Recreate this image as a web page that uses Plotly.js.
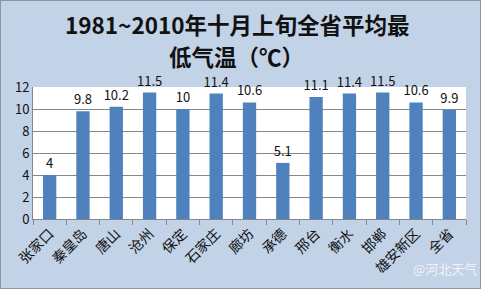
<!DOCTYPE html>
<html><head><meta charset="utf-8">
<script src="https://cdn.plot.ly/plotly-3.0.1.min.js"></script>
<style>html,body{margin:0;padding:0;background:#fff}#c{width:479px;height:287px;border:1px solid #8796a8}</style>
</head><body><div id="c"></div>
<script>
var categories = ['张家口','秦皇岛','唐山','沧州','保定','石家庄','廊坊','承德','邢台','衡水','邯郸','雄安新区','全省'];
var values = [4, 9.8, 10.2, 11.5, 10, 11.4, 10.6, 5.1, 11.1, 11.4, 11.5, 10.6, 9.9];
var labels = values.map(function(v){return String(v);});
var titleLines = ['1981~2010年十月上旬全省平均最', '低气温（℃）'];
var font = '"Noto Sans CJK SC", "Liberation Sans", sans-serif';
var H = 287, mt = 86, mb = 69, ph = H - mt - mb;
function py(pix){ return 1 - (pix - mt) / ph; }
Plotly.newPlot('c', [{
  type:'bar', x:categories, y:values, text:labels, textposition:'outside', constraintext:'none',
  textfont:{family:font, size:13, color:'#111'}, cliponaxis:false,
  marker:{color:'#4F81BD', line:{width:0}}, hoverinfo:'none'
}], {
  width:479, height:H,
  margin:{l:32, r:14, t:mt, b:mb},
  paper_bgcolor:'#C2D2E7', plot_bgcolor:'#ffffff',
  bargap:0.6, showlegend:false,
  xaxis:{type:'category', tickangle:-45, tickfont:{family:font, size:14, color:'#111'},
    showline:true, linecolor:'#868686', linewidth:1, ticks:'outside', ticklen:5, tickcolor:'#868686',
    tickson:'boundaries', showgrid:false, fixedrange:true},
  yaxis:{range:[0,12], dtick:2, tickfont:{family:font, size:13, color:'#111'}, showline:true,
    linecolor:'#868686', gridcolor:'#868686', gridwidth:1, zeroline:false, ticks:'', fixedrange:true},
  annotations:[
    {text:'<b>'+titleLines[0]+'</b>', xref:'paper', yref:'paper', x:0.47, y:py(23), yanchor:'middle', xanchor:'center',
      showarrow:false, font:{family:font, size:22.5, color:'#111'}},
    {text:'<b>'+titleLines[1]+'</b>', xref:'paper', yref:'paper', x:0.47, y:py(55), yanchor:'middle', xanchor:'center',
      showarrow:false, font:{family:font, size:22.5, color:'#111'}},
    {text:'@河北天气', xref:'paper', yref:'paper', x:1.03, y:-0.46, xanchor:'right', yanchor:'bottom',
    showarrow:false, font:{family:font, size:13, color:'#f2f4f8'}}]
}, {displayModeBar:false, staticPlot:true});
</script></body></html>
